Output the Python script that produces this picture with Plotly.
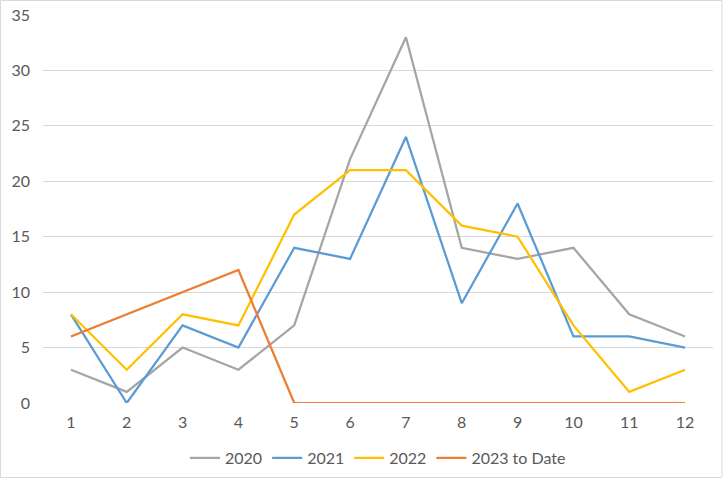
import plotly.graph_objects as go

months = [1, 2, 3, 4, 5, 6, 7, 8, 9, 10, 11, 12]
y2020 = [3, 1, 5, 3, 7, 22, 33, 14, 13, 14, 8, 6]
y2021 = [8, 0, 7, 5, 14, 13, 24, 9, 18, 6, 6, 5]
y2022 = [8, 3, 8, 7, 17, 21, 21, 16, 15, 7, 1, 3]
y2023 = [6, 8, 10, 12, 0, 0, 0, 0, 0, 0, 0, 0]

series = [
    ("2020", y2020, "#A5A5A5"),
    ("2021", y2021, "#5B9BD5"),
    ("2022", y2022, "#FFC000"),
    ("2023 to Date", y2023, "#ED7D31"),
]

fig = go.Figure()
for name, vals, col in series:
    fig.add_trace(go.Scatter(x=months, y=vals, name=name, mode="lines",
                             line=dict(color=col, width=2.25)))

W, H = 723, 479
ml, mr, mt, mb = 43, 10, 15, 76
pw, ph = W - ml - mr, H - mt - mb

fig.update_layout(
    width=W, height=H,
    margin=dict(l=ml, r=mr, t=mt, b=mb, autoexpand=False),
    paper_bgcolor="white", plot_bgcolor="white",
    font=dict(family="Lato, 'Open Sans', sans-serif", size=16, color="#595959"),
    xaxis=dict(range=[0.5, 12.5], tickmode="array", tickvals=months,
               ticktext=[str(m) for m in months], showgrid=False,
               zeroline=False, showline=False, ticks="", ticklabelstandoff=8,
               automargin=False),
    yaxis=dict(range=[0, 35], dtick=5, showgrid=True, gridcolor="#D9D9D9",
               gridwidth=1, zeroline=False, showline=False, ticks="",
               ticklabelstandoff=12, automargin=False),
    legend=dict(orientation="h", x=0.5, xanchor="center", y=(403 - 458) / ph,
                yanchor="middle", font=dict(size=16, color="#595959"),
                itemwidth=30, tracegroupgap=0),
    showlegend=True,
    shapes=[dict(type="rect", xref="paper", yref="paper",
                 x0=(0.5 - ml) / pw, x1=(722 - ml) / pw,
                 y0=(403 - 477.5) / ph, y1=(403 - 0.5) / ph,
                 line=dict(color="#D9D9D9", width=1), layer="below")],
)

fig.write_html("out.html",
               config={"displayModeBar": False},
               post_script="document.body.style.margin='0';document.body.style.overflow='hidden';")
